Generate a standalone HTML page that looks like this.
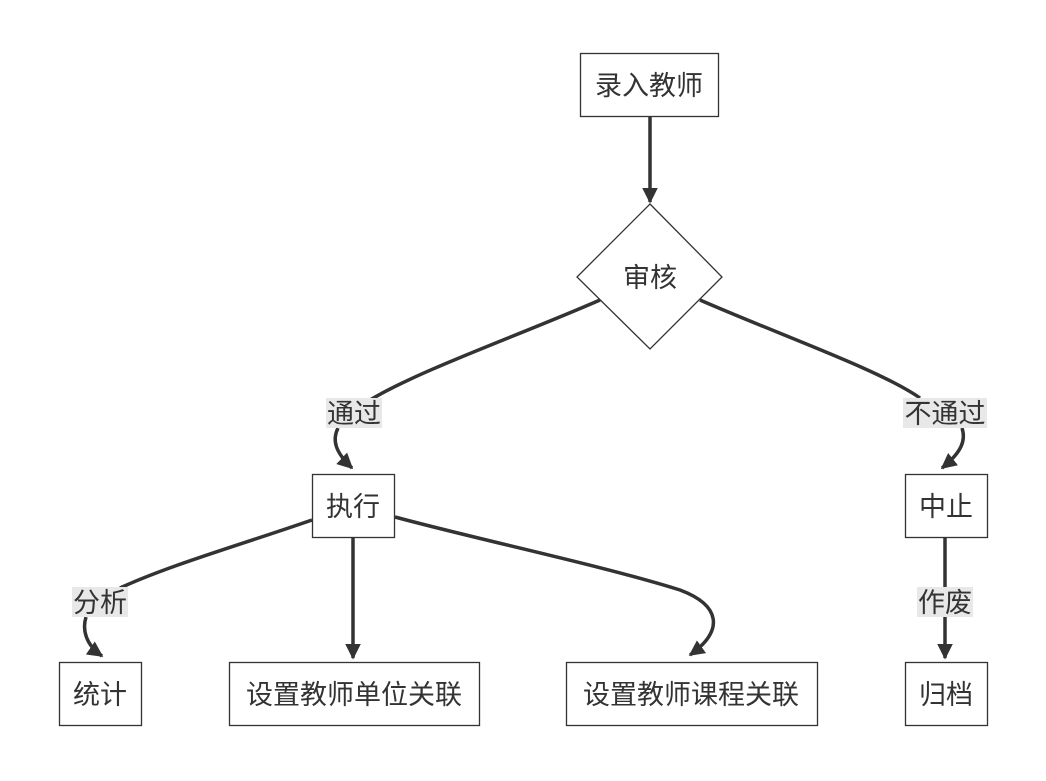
<!DOCTYPE html>
<html><head><meta charset="utf-8"><style>
html,body{margin:0;padding:0;background:#fff;width:1046px;height:781px;overflow:hidden}
svg text{font-family:"Liberation Sans","Noto Sans CJK SC",sans-serif;font-size:27px;fill:#333}
</style></head><body>
<svg width="1046" height="781" viewBox="0 0 1046 781" xmlns="http://www.w3.org/2000/svg">
<defs>
<marker id="a" viewBox="0 0 10 10" refX="9" refY="5" markerWidth="4.5" markerHeight="4.5" orient="auto" markerUnits="strokeWidth">
<path d="M0,0 L10,5 L0,10 z" fill="#333"/></marker>
</defs>
<g fill="none" stroke="#333" stroke-width="3.5">
<path d="M650,116 L650,202" marker-end="url(#a)"/>
<path d="M600,300 C520,335 420,370 370,400" />
<path d="M338,428 C332,440 335,452 352,468" marker-end="url(#a)"/>
<path d="M700,300 C780,335 880,370 920,398"/>
<path d="M962,428 C966,440 962,452 942,468" marker-end="url(#a)"/>
<path d="M312,520 C240,545 170,565 120,588"/>
<path d="M86,617 C82,630 86,645 102,656" marker-end="url(#a)"/>
<path d="M353,537 L353,658" marker-end="url(#a)"/>
<path d="M395,517 C480,540 600,565 680,590 C720,605 725,630 690,655" marker-end="url(#a)"/>
<path d="M945,537 L945,588"/>
<path d="M945,617 L945,658" marker-end="url(#a)"/>
</g>
<g fill="#fff" stroke="#333" stroke-width="1.3">
<rect x="580.5" y="53.5" width="138" height="63"/>
<polygon points="650,204 722,277 650,349 577,277"/>
<rect x="312.5" y="474.5" width="82" height="63"/>
<rect x="905.5" y="474.5" width="82" height="63"/>
<rect x="59.5" y="662.5" width="82" height="63"/>
<rect x="229.5" y="662.5" width="250" height="63"/>
<rect x="566.5" y="662.5" width="251" height="63"/>
<rect x="905.5" y="662.5" width="82" height="63"/>
</g>
<g fill="#e8e8e8">
<rect x="326" y="398" width="56" height="30"/>
<rect x="903" y="398" width="84" height="30"/>
<rect x="72" y="587" width="56" height="30"/>
<rect x="917" y="587" width="56" height="30"/>
</g>
<g text-anchor="middle">
<text x="649" y="95">录入教师</text>
<text x="650" y="287">审核</text>
<text x="354" y="423">通过</text>
<text x="945" y="423">不通过</text>
<text x="353" y="516">执行</text>
<text x="946" y="516">中止</text>
<text x="100" y="612">分析</text>
<text x="945" y="612">作废</text>
<text x="100" y="704">统计</text>
<text x="354" y="704">设置教师单位关联</text>
<text x="691" y="704">设置教师课程关联</text>
<text x="946" y="704">归档</text>
</g>
</svg>
</body></html>
